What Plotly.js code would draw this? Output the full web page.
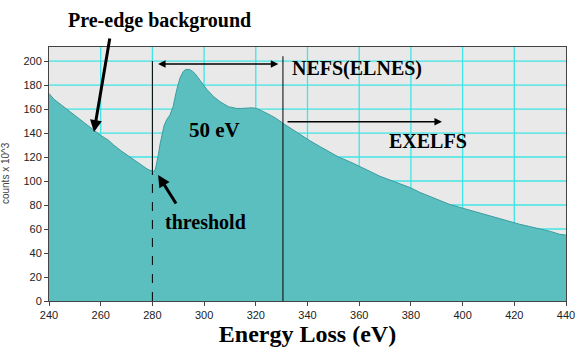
<!DOCTYPE html>
<html>
<head>
<meta charset="utf-8">
<script src="https://cdn.plot.ly/plotly-3.0.1.min.js"></script>
<style>html,body{margin:0;padding:0;background:#fff;}#chart{width:584px;height:363px;}</style>
</head>
<body>
<div id="chart"></div>
<script>
const energy = [240,242,245,248,250,253,255,258,260,263,265,268,270,272,274,276,278,279,280,280.6,281.2,281.7,282.3,283,283.6,284.5,285.5,286.8,288,289.4,290.7,292,293,294.3,295.5,296.5,298.4,300,301,303.6,306.2,309.4,312.6,314.5,316.5,318.5,320.3,322,324.2,326,328,330.6,333,336,341,345,348.7,352,356.4,360,364.2,368,371.9,376,379.7,383.5,387.4,391,395,399,403,406.7,410,414,418.3,422,426,430,434,437.7,440];
const counts = [173,168,163,158,155,150,147,142,138,134,130,125,122,119,115.5,112.5,110,109,108,108,110,115,122,131,138,146,151,155,162,176,186,191.5,193,193,191.5,189.5,184,179.5,176.5,170.5,166,162,160.5,160.5,161,161,160.5,159,156.5,154.5,152,148,144.5,140.5,133.5,128.5,124,120,116,112,108,104,101,97.5,94.5,90.5,87,83.5,80.5,78,75.5,73,71,68.5,66,64,62,60,58,55.5,55];
const xTicks = [240,260,280,300,320,340,360,380,400,420,440];
const yTicks = [0,20,40,60,80,100,120,140,160,180,200];

const serif = 'Liberation Serif, Times New Roman, serif';
const sans = 'Liberation Sans, Arial, sans-serif';
const gridColor = '#3fe4e4';

const trace = {
  x: energy, y: counts, type: 'scatter', mode: 'lines',
  fill: 'tozeroy', fillcolor: '#5bbfbf',
  line: {color: '#3a9c9e', width: 1}, hoverinfo: 'skip'
};

function txt(x, y, text, size, xanchor, ref) {
  return {x: x, y: y, xref: ref || 'x', yref: ref || 'y', text: text, showarrow: false,
    xanchor: xanchor || 'center', yanchor: 'middle',
    font: {family: serif, size: size, color: '#000', weight: 'bold'}};
}
function arrow(x, y, ax, ay, width, side, size) {
  return {x: x, y: y, ax: ax, ay: ay, xref: 'x', yref: 'y', axref: 'x', ayref: 'y',
    text: '', showarrow: true, arrowhead: 2, arrowsize: size || 1, arrowwidth: width,
    arrowcolor: '#000', arrowside: side || 'end', standoff: 0, startstandoff: 0};
}

const gridShapes = [];
xTicks.slice(1, -1).forEach(v => gridShapes.push({type: 'line', layer: 'below', xref: 'x', yref: 'paper',
  x0: v, x1: v, y0: 0, y1: 1, line: {color: gridColor, width: 1.3}}));
yTicks.slice(1).forEach(v => gridShapes.push({type: 'line', layer: 'below', xref: 'paper', yref: 'y',
  x0: 0, x1: 1, y0: v, y1: v, line: {color: gridColor, width: 1.3}}));

const layout = {
  width: 584, height: 363,
  margin: {l: 49, r: 18, t: 47, b: 62},
  paper_bgcolor: '#ffffff', plot_bgcolor: '#e9e9e9',
  showlegend: false,
  xaxis: {
    range: [240, 440], tickmode: 'array', tickvals: xTicks, ticktext: xTicks.map(String),
    showgrid: false, zeroline: false,
    showline: true, linecolor: '#444', linewidth: 1, mirror: true,
    ticks: 'outside', ticklen: 4, tickcolor: '#444',
    tickfont: {family: sans, size: 11, color: '#222'},
    title: {text: 'Energy Loss (eV)', font: {family: serif, size: 24, color: '#000', weight: 'bold'}, standoff: 3}
  },
  yaxis: {
    range: [0, 211.7], tickmode: 'array', tickvals: yTicks, ticktext: yTicks.map(String),
    showgrid: false, zeroline: false,
    showline: true, linecolor: '#444', linewidth: 1, mirror: true,
    ticks: 'outside', ticklen: 4, tickcolor: '#444',
    tickfont: {family: sans, size: 11, color: '#222'}
  },
  shapes: gridShapes.concat([
    {type: 'line', xref: 'x', yref: 'y', x0: 280, x1: 280, y0: 108, y1: 200, line: {color: '#000', width: 1}},
    {type: 'line', xref: 'x', yref: 'y', x0: 280, x1: 280, y0: 0, y1: 108, line: {color: '#000', width: 1, dash: 'dash'}},
    {type: 'line', xref: 'x', yref: 'y', x0: 330.5, x1: 330.5, y0: 0, y1: 204, line: {color: '#000', width: 1}}
  ]),
  annotations: [
    {x: -0.083, y: 0.504, xref: 'paper', yref: 'paper', text: 'counts x 10^3', showarrow: false,
     textangle: -90, xanchor: 'center', yanchor: 'middle', font: {family: sans, size: 10, color: '#444'}},
    txt(0.2128, 1.106, 'Pre-edge background', 20, 'center', 'paper'),
    txt(333.2, 194, 'NEFS(ELNES)', 20, 'left'),
    txt(304.2, 142.5, '50 eV', 21),
    txt(370.8, 133, 'EXELFS', 20, 'left'),
    txt(284.1, 66, 'threshold', 20, 'left'),
    arrow(257.4, 140.8, 263.6, 220, 3, 'end', 0.8),
    arrow(282.2, 105, 289.5, 80, 3, 'end', 0.8),
    arrow(328.7, 197.5, 281.6, 197.5, 1.5, 'end+start', 1),
    arrow(392, 149.4, 331.7, 149.4, 1.5, 'end', 1)
  ]
};

Plotly.newPlot('chart', [trace], layout, {displayModeBar: false, staticPlot: true});
</script>
</body>
</html>
